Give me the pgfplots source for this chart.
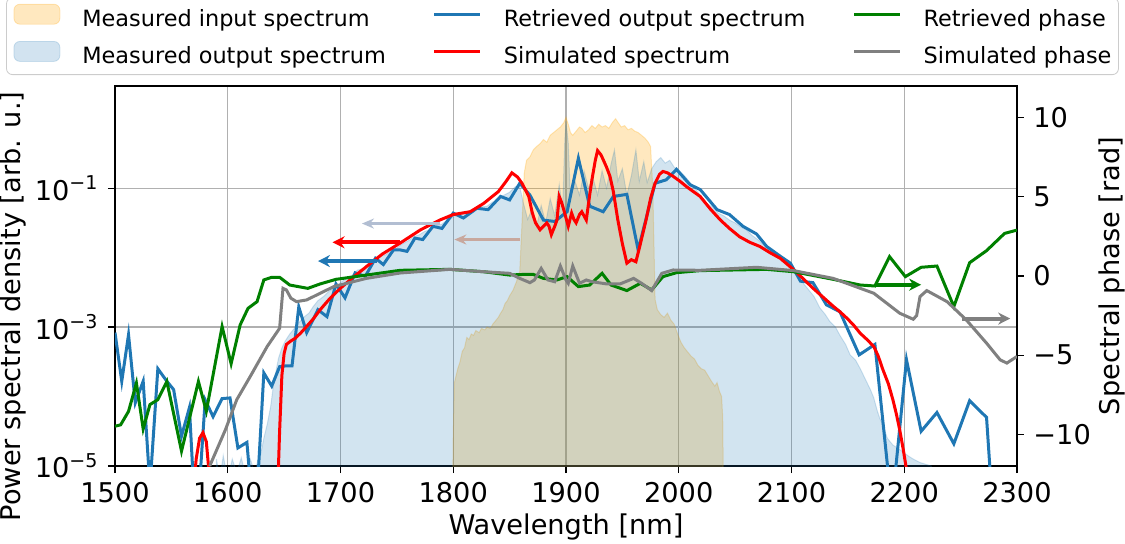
\documentclass[border=0pt]{standalone}
\usepackage{fontspec}
\setmainfont{DejaVu Sans}
\usepackage{pgfplots}
\pgfplotsset{compat=1.18}
\usetikzlibrary{arrows.meta}
\definecolor{mblue}{HTML}{1F77B4}
\definecolor{morange}{HTML}{FFA500}
\definecolor{mgreen}{HTML}{008000}
\definecolor{mgray}{HTML}{808080}
\definecolor{gridc}{HTML}{B0B0B0}
\definecolor{legc}{HTML}{CCCCCC}
\definecolor{lightarrow}{RGB}{178,190,210}
\definecolor{tanarrow}{RGB}{200,168,158}
\begin{document}
\fontsize{13.6}{16}\selectfont
\begin{tikzpicture}
\begin{axis}[
  name=main,
  scale only axis, width=451pt, height=190pt,
  xmin=1500, xmax=2300, ymin=-5, ymax=0.47,
  xtick={1500,1600,1700,1800,1900,2000,2100,2200,2300},
  xticklabels={1500,1600,1700,1800,1900,2000,2100,2200,2300},
  ytick={-5,-3,-1},
  yticklabels={10\textsuperscript{−5},10\textsuperscript{−3},10\textsuperscript{−1}},
  xtick pos=bottom, ytick pos=left,
  tick align=outside, major tick length=3.5pt,
  every tick/.style={black, line width=0.6pt},
  axis line style={line width=0.8pt},
  grid=major, major grid style={gridc, line width=0.6pt},
  xlabel={Wavelength [nm]},
  xlabel style={at={(axis description cs:0.5,-0.16)}, anchor=center},
  ylabel={Power spectral density [arb. u.]},
  ylabel style={at={(axis description cs:-0.113,0.42)}, anchor=center, rotate=0},
  clip=true,
]
% Measured input spectrum (orange)
\addplot[fill=morange, fill opacity=0.25, draw=morange, draw opacity=0.25, line width=0.5pt] coordinates {
(1799,-6) (1800,-4.6) (1801,-3.8) (1804,-3.6) (1806,-3.5) (1808,-3.35) (1810,-3.3) (1812,-3.15) (1814,-3.18) (1816,-3.1) (1818,-3.12) (1820,-3.05) (1823,-3.08) (1825,-3.02) (1828,-3.04) (1830,-3.0) (1833,-3.02) (1835,-2.96) (1838,-2.9) (1840,-2.86) (1842,-2.8) (1844,-2.75) (1846,-2.66) (1848,-2.62) (1850,-2.55) (1853,-2.47) (1856,-2.35) (1859,-2.2) (1861,-1.5) (1863,-0.78) (1865,-0.6) (1868,-0.55) (1871,-0.45) (1874,-0.4) (1877,-0.36) (1880,-0.3) (1883,-0.34) (1886,-0.24) (1889,-0.2) (1892,-0.16) (1895,-0.12) (1898,-0.06) (1900,0.02) (1902,-0.08) (1904,-0.2) (1906,-0.24) (1909,-0.18) (1912,-0.12) (1914,-0.14) (1917,-0.2) (1920,-0.16) (1923,-0.1) (1926,-0.14) (1929,-0.08) (1932,-0.12) (1935,-0.1) (1938,-0.14) (1941,-0.06) (1944,0.0) (1946,-0.05) (1949,-0.12) (1952,-0.1) (1955,-0.16) (1958,-0.14) (1961,-0.18) (1964,-0.2) (1967,-0.24) (1970,-0.28) (1973,-0.34) (1975,-0.4) (1977,-1.0) (1979,-2.6) (1981,-2.75) (1984,-2.82) (1987,-2.86) (1990,-2.8) (1993,-2.9) (1996,-2.96) (1999,-3.1) (2002,-3.22) (2005,-3.3) (2008,-3.36) (2011,-3.42) (2014,-3.46) (2017,-3.55) (2020,-3.6) (2023,-3.62) (2026,-3.7) (2029,-3.78) (2032,-3.85) (2034,-3.8) (2036,-3.92) (2038,-4.0) (2039,-4.3) (2040,-6)
} -- cycle;
% Measured output spectrum (blue)
\addplot[fill=mblue, fill opacity=0.2, draw=mblue, draw opacity=0.2, line width=0.5pt] coordinates {
(1588,-6) (1590,-4.9) (1593,-5.2) (1596,-4.85) (1600,-5.2) (1604,-4.9) (1608,-5.1) (1612,-4.88) (1616,-5.15) (1620,-4.9) (1624,-5.1) (1627,-4.9) (1629,-4.85) (1632,-4.6) (1635,-4.4) (1638,-4.15) (1640,-3.9) (1642,-3.7) (1645,-3.45) (1648,-3.3) (1651,-3.2) (1655,-3.1) (1660,-3.0) (1664,-2.92) (1668,-2.85) (1672,-2.8) (1676,-2.7) (1680,-2.62) (1685,-2.56) (1690,-2.48) (1695,-2.44) (1700,-2.36) (1705,-2.3) (1710,-2.26) (1715,-2.18) (1720,-2.16) (1725,-2.08) (1730,-2.04) (1735,-1.98) (1740,-1.96) (1745,-1.9) (1750,-1.86) (1755,-1.8) (1760,-1.76) (1765,-1.7) (1770,-1.67) (1775,-1.62) (1780,-1.6) (1785,-1.54) (1790,-1.52) (1795,-1.45) (1800,-1.42) (1805,-1.38) (1810,-1.37) (1815,-1.32) (1820,-1.31) (1825,-1.27) (1830,-1.26) (1835,-1.2) (1840,-1.16) (1845,-1.1) (1850,-1.06) (1855,-0.98) (1859,-0.98) (1862,-1.2) (1866,-1.45) (1870,-1.3) (1874,-1.55) (1878,-1.25) (1882,-1.5) (1886,-1.15) (1890,-1.4) (1894,-0.95) (1897,-1.3) (1899,-0.3) (1900,-0.04) (1902,-0.35) (1904,-1.15) (1908,-0.9) (1912,-1.1) (1916,-0.75) (1920,-1.0) (1924,-0.85) (1928,-1.1) (1932,-0.75) (1936,-1.0) (1940,-0.65) (1943,-0.45) (1946,-0.9) (1950,-0.72) (1954,-1.1) (1958,-0.82) (1962,-0.45) (1965,-0.9) (1969,-0.62) (1972,-0.92) (1976,-0.72) (1980,-0.62) (1984,-0.56) (1988,-0.64) (1992,-0.6) (1996,-0.7) (2000,-0.74) (2005,-0.82) (2010,-0.92) (2015,-1.02) (2020,-1.12) (2025,-1.22) (2030,-1.28) (2035,-1.36) (2040,-1.4) (2045,-1.46) (2050,-1.5) (2055,-1.56) (2060,-1.6) (2065,-1.68) (2070,-1.74) (2075,-1.82) (2080,-1.88) (2085,-1.94) (2090,-2.0) (2095,-2.06) (2100,-2.14) (2105,-2.26) (2110,-2.36) (2115,-2.46) (2120,-2.56) (2125,-2.72) (2130,-2.82) (2134,-2.92) (2139,-3.0) (2143,-3.12) (2148,-3.25) (2152,-3.4) (2157,-3.48) (2161,-3.6) (2164,-3.7) (2167,-3.8) (2170,-3.9) (2173,-4.02) (2176,-4.2) (2178,-4.3) (2182,-4.45) (2185,-4.6) (2190,-4.7) (2195,-4.75) (2199,-4.8) (2204,-4.86) (2208,-4.9) (2214,-4.95) (2220,-4.98) (2224,-5.0) (2225,-6)
} -- cycle;
% Retrieved output spectrum
\addplot[mblue, line width=1.5pt] coordinates {
(1500,-3.08) (1506,-3.78) (1512,-3.11) (1518,-4.09) (1525,-3.78) (1531,-5.3) (1538,-3.6) (1546,-3.78) (1552,-3.9) (1559,-4.57) (1566,-4.16) (1572,-6) (1580,-4.05) (1587,-4.29) (1595,-4.03) (1602,-4.02) (1609,-4.74) (1617,-4.66) (1624,-6) (1632,-3.66) (1639,-3.85) (1646,-3.57) (1651,-3.56) (1657,-3.56) (1663,-2.71) (1670,-3.08) (1680,-2.75) (1688,-2.85) (1696,-2.38) (1704,-2.58) (1713,-2.22) (1722,-2.27) (1731,-2.01) (1738,-2.10) (1747,-1.89) (1753,-1.89) (1759,-1.91) (1766,-1.72) (1773,-1.74) (1782,-1.55) (1790,-1.58) (1800,-1.36) (1809,-1.43) (1821,-1.29) (1831,-1.31) (1842,-1.12) (1850,-1.17) (1859,-0.93) (1868,-1.10) (1880,-1.46) (1890,-1.48) (1901,-1.34) (1911,-0.57) (1921,-1.26) (1933,-1.34) (1942,-1.12) (1954,-1.09) (1964,-1.89) (1979,-0.93) (1989,-0.88) (1998,-0.73) (2010,-0.95) (2019,-1.02) (2034,-1.31) (2045,-1.38) (2057,-1.55) (2069,-1.66) (2078,-1.84) (2090,-1.98) (2099,-2.08) (2108,-2.34) (2119,-2.36) (2131,-2.68) (2143,-2.78) (2160,-3.40) (2174,-3.25) (2189,-5.6) (2202,-3.47) (2215,-4.50) (2229,-4.23) (2244,-4.68) (2258,-4.06) (2273,-4.30) (2280,-6) (2300,-6)
};
% Simulated spectrum
\addplot[red, line width=1.5pt] coordinates {
(1566,-6) (1572,-4.9) (1575,-4.6) (1578,-4.52) (1581,-4.65) (1584,-5.2) (1588,-6) (1640,-6) (1644,-5.5) (1646,-4.5) (1648,-3.7) (1650,-3.38) (1652,-3.25) (1656,-3.2) (1660,-3.16) (1665,-3.08) (1670,-2.99) (1676,-2.88) (1682,-2.75) (1690,-2.6) (1700,-2.44) (1710,-2.3) (1723,-2.13) (1737,-1.95) (1753,-1.79) (1771,-1.60) (1788,-1.46) (1800,-1.38) (1815,-1.34) (1827,-1.22) (1840,-1.05) (1847,-0.9) (1852,-0.78) (1857,-0.84) (1861,-0.93) (1867,-1.12) (1870,-1.35) (1873,-1.50) (1877,-1.60) (1880,-1.55) (1883,-1.50) (1885,-1.55) (1887,-1.67) (1890,-1.55) (1892,-1.46) (1894,-1.12) (1896,-1.2) (1898,-1.31) (1902,-1.55) (1905,-1.36) (1907,-1.45) (1909,-1.50) (1912,-1.38) (1914,-1.34) (1916,-1.4) (1918,-1.46) (1921,-1.1) (1923,-0.88) (1926,-0.6) (1928,-0.46) (1931,-0.52) (1933,-0.59) (1936,-0.7) (1939,-0.83) (1942,-1.05) (1946,-1.46) (1950,-1.8) (1954,-2.08) (1958,-2.03) (1962,-2.06) (1966,-1.8) (1971,-1.46) (1975,-1.15) (1979,-0.93) (1983,-0.8) (1986,-0.76) (1990,-0.78) (1995,-0.83) (2001,-0.9) (2007,-0.98) (2013,-1.05) (2019,-1.12) (2028,-1.3) (2037,-1.46) (2045,-1.58) (2054,-1.70) (2063,-1.78) (2072,-1.84) (2081,-1.93) (2090,-2.01) (2098,-2.12) (2105,-2.22) (2112,-2.33) (2119,-2.44) (2128,-2.57) (2137,-2.70) (2143,-2.78) (2149,-2.87) (2155,-2.97) (2161,-3.09) (2167,-3.18) (2173,-3.28) (2177,-3.42) (2181,-3.61) (2186,-3.82) (2190,-4.05) (2193,-4.25) (2196,-4.48) (2199,-4.75) (2202,-5.05) (2206,-5.6)
};
% arrows (left axis)
\addplot[lightarrow, line width=1.2pt, -{Stealth[length=6pt,width=5pt]}] coordinates {(1788,-1.51) (1719,-1.51)};
\addplot[tanarrow, line width=1.2pt, -{Stealth[length=6pt,width=5pt]}] coordinates {(1859,-1.74) (1801,-1.74)};
\addplot[red, line width=2pt, -{Stealth[length=6pt,width=6pt]}] coordinates {(1753,-1.78) (1693,-1.78)};
\addplot[mblue, line width=2pt, -{Stealth[length=6pt,width=6pt]}] coordinates {(1732,-2.05) (1680,-2.05)};
\end{axis}
\begin{axis}[
  scale only axis, width=451pt, height=190pt,
  xmin=1500, xmax=2300, ymin=-12, ymax=12,
  axis x line=none,
  axis y line*=right,
  ytick={-10,-5,0,5,10},
  yticklabels={−10,−5,0,5,10},
  tick align=outside, major tick length=3.5pt,
  every tick/.style={black, line width=0.6pt},
  axis line style={line width=0.8pt},
  ylabel={Spectral phase [rad]},
  ylabel style={at={(axis description cs:1.105,0.5)}, anchor=center, rotate=0},
  legend columns=3,
  legend cell align=left,
  legend style={at={(0.5,1)}, anchor=south, xshift=-1.75pt, yshift=5.5pt, draw=legc, rounded corners=3pt,
     font=\fontsize{11.2}{13}\selectfont,
     inner xsep=3.5pt, inner ysep=3pt,
     nodes={inner sep=0pt, text height=8.6pt, text depth=2.6pt},
     /tikz/every odd column/.append style={column sep=11pt},
     /tikz/every even column/.append style={column sep=23.5pt},
     row sep=4.8pt},
  legend image code/.code={\draw[#1, line width=1.5pt] (0pt,3pt) -- (23pt,3pt);},
]
\addlegendimage{legend image code/.code={\draw[fill=morange, fill opacity=0.25, draw=morange, draw opacity=0.25] (0pt,-2pt) rectangle (23pt,8pt);}}
\addlegendentry{Measured input spectrum}
\addlegendimage{mblue}
\addlegendentry{Retrieved output spectrum}
\addlegendimage{mgreen}
\addlegendentry{Retrieved phase}
\addlegendimage{legend image code/.code={\draw[fill=mblue, fill opacity=0.2, draw=mblue, draw opacity=0.2] (0pt,-2pt) rectangle (23pt,8pt);}}
\addlegendentry{Measured output spectrum}
\addlegendimage{red}
\addlegendentry{Simulated spectrum}
\addlegendimage{mgray}
\addlegendentry{Simulated phase}
% Retrieved phase
\addplot[mgreen, line width=1.5pt, forget plot] coordinates {
(1500,-9.49) (1505,-9.4) (1512,-8.55) (1519,-6.76) (1525,-9.66) (1531,-8.12) (1538,-7.81) (1546,-6.66) (1559,-11.06) (1574,-6.66) (1581,-8.54) (1595,-3.19) (1603,-5.54) (1611,-3.09) (1618,-2.04) (1626,-1.62) (1632,-0.25) (1639,-0.08) (1646,-0.08) (1655,-0.57) (1671,-0.78) (1682,-0.50) (1696,-0.21) (1723,0.06) (1753,0.36) (1797,0.42) (1827,0.27) (1850,0.06) (1862,0.1) (1871,0.1) (1880,-0.15) (1892,-0.25) (1901,-0.04) (1911,-0.67) (1921,-0.57) (1932,0.17) (1940,-0.57) (1954,-0.92) (1966,-0.46) (1976,-0.88) (1986,-0.04) (1998,0.21) (2019,0.34) (2078,0.42) (2102,0.27) (2137,-0.21) (2161,-0.57) (2174,-0.63) (2187,1.22) (2201,-0.04) (2215,0.55) (2229,0.63) (2244,-1.93) (2258,0.84) (2273,1.60) (2289,2.69) (2300,2.90)
};
% Simulated phase
\addplot[mgray, line width=1.5pt, forget plot] coordinates {
(1584,-12.0) (1598,-9.70) (1608,-7.81) (1620,-6.34) (1635,-4.45) (1646,-3.30) (1649,-0.78) (1652,-0.88) (1656,-1.4) (1661,-1.62) (1670,-1.51) (1694,-0.67) (1723,-0.15) (1753,0.19) (1797,0.42) (1827,0.27) (1850,0.17) (1859,-0.15) (1868,-0.42) (1872,-0.25) (1878,0.48) (1884,-0.25) (1890,-0.36) (1895,0.63) (1900,-0.25) (1902,-0.46) (1906,0.63) (1912,-0.46) (1918,-0.25) (1923,-0.36) (1936,-0.50) (1948,-0.50) (1960,-0.15) (1967,-0.46) (1976,-0.92) (1985,0.17) (1995,0.38) (2019,0.36) (2069,0.55) (2102,0.34) (2137,-0.15) (2173,-1.09) (2196,-2.35) (2208,-2.73) (2211,-2.5) (2214,-1.30) (2220,-0.92) (2238,-1.62) (2255,-2.77) (2273,-4.24) (2285,-5.29) (2291,-5.50) (2300,-5.08)
};
\addplot[mgreen, line width=2pt, -{Stealth[length=6pt,width=6pt]}, forget plot] coordinates {(2174,-0.55) (2215,-0.55)};
\addplot[mgray, line width=2pt, -{Stealth[length=6pt,width=6pt]}, forget plot] coordinates {(2251,-2.69) (2294,-2.69)};
\end{axis}
\pgfresetboundingbox
\path[use as bounding box] ([shift={(-57.5pt,-38.5pt)}]main.south west) rectangle ++(562.5pt,271.5pt);
\end{tikzpicture}
\end{document}
